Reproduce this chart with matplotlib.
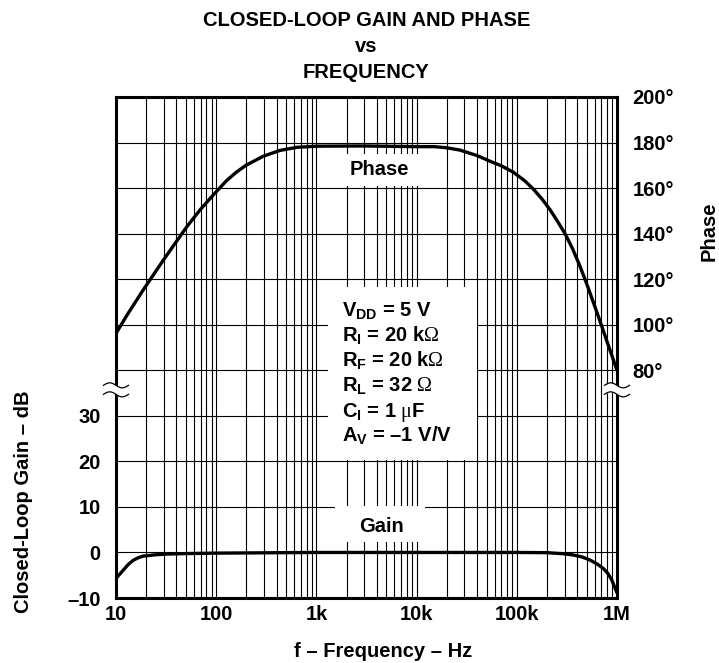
import matplotlib
matplotlib.use("Agg")
import matplotlib.pyplot as plt
import numpy as np
from matplotlib.patches import Rectangle
from matplotlib.ticker import LogLocator, NullFormatter

plt.rcParams['font.family'] = ['Liberation Sans', 'DejaVu Sans']
plt.rcParams['font.weight'] = 'bold'
plt.rcParams['axes.labelweight'] = 'bold'
plt.rcParams['axes.titleweight'] = 'bold'
plt.rcParams['font.size'] = 14.5
plt.rcParams['mathtext.fontset'] = 'custom'
plt.rcParams['mathtext.rm'] = 'Liberation Sans:bold'
plt.rcParams['mathtext.it'] = 'Liberation Sans:bold'
plt.rcParams['mathtext.bf'] = 'Liberation Sans:bold'
plt.rcParams['mathtext.sf'] = 'Liberation Serif:normal'

# closed-loop phase (degrees) against frequency (Hz)
phase_freq = [10, 13, 18.7, 29.7, 40, 50.8, 68.9, 93.5, 127, 159, 198, 295,
              430, 636, 1000, 3000, 10000, 15000, 20000, 27000, 40000, 54000,
              70000, 92000, 120000, 146000, 180000, 214000, 250000, 303000,
              360000, 427000, 500000, 581000, 680000, 789000, 1000000]
phase_deg = [96.2, 104.5, 115.3, 128.4, 136.5, 143.0, 150.4, 157.0, 163.3,
             167.0, 170.0, 174.0, 176.5, 177.9, 178.4, 178.5, 178.2, 178.2,
             177.7, 176.7, 174.3, 171.8, 169.8, 167.0, 163.2, 159.6, 155.0,
             150.6, 146.0, 140.0, 133.4, 125.7, 117.8, 109.8, 101.3, 93.0, 80]

# closed-loop gain (dB) against frequency (Hz)
gain_freq = [10, 11.8, 13.3, 14.9, 16.7, 18.7, 25, 32, 50, 100, 1000, 10000,
             100000, 200000, 300000, 367000, 450000, 537000, 630000, 729000,
             810000, 885000, 1000000]
gain_db = [-5.7, -3.9, -2.6, -1.7, -1.15, -0.8, -0.5, -0.35, -0.25, -0.15,
           0, 0, 0, -0.05, -0.3, -0.56, -1.0, -1.66, -2.5, -3.5, -4.6, -6.0,
           -8.9]

freq_ticks = [10, 100, 1e3, 1e4, 1e5, 1e6]
freq_labels = ['10', '100', '1k', '10k', '100k', '1M']
gain_ticks = list(range(-10, 101, 10))
gain_labels = ['\u201310' if g == -10 else (str(g) if g <= 30 else '') for g in gain_ticks]
phase_ticks = list(range(80, 201, 20))
phase_labels = [f'{p}\u00b0' for p in phase_ticks]

conditions = [r'V$_{\mathrm{DD}}$ = 5 V',
              r'R$_{\mathrm{I}}$ = 20 k$\mathsf{\Omega}$',
              r'R$_{\mathrm{F}}$ = 20 k$\mathsf{\Omega}$',
              r'R$_{\mathrm{L}}$ = 32 $\mathsf{\Omega}$',
              r'C$_{\mathrm{I}}$ = 1 $\mathsf{\mu}$F',
              r'A$_{\mathrm{V}}$ = –1 V/V']

fig = plt.figure(figsize=(7.19, 6.63), dpi=100)
ax = fig.add_axes([116 / 719, 65 / 663, 501 / 719, 501 / 663])

ax.set_xscale('log')
ax.set_xlim(10, 1e6)
ax.set_ylim(-10, 100)
ax.set_xticks(freq_ticks, freq_labels)
ax.xaxis.set_minor_locator(LogLocator(base=10, subs=range(2, 10)))
ax.xaxis.set_minor_formatter(NullFormatter())
ax.set_yticks(gain_ticks, gain_labels)
ax.grid(True, which='both', axis='x', color='black', lw=0.8)
ax.grid(True, which='major', axis='y', color='black', lw=0.8)
ax.tick_params(which='both', length=0)
ax.tick_params(axis='y', pad=11)
ax.tick_params(axis='x', pad=5)
for s in ax.spines.values():
    s.set_linewidth(2.2)

ax.plot(gain_freq, gain_db, color='black', lw=2.4, zorder=3,
        solid_capstyle='butt')

ax.set_xlabel('f \u2013 Frequency \u2013 Hz')
ax.xaxis.set_label_coords(0.533, -0.0888)
ax.set_ylabel('Closed-Loop Gain \u2013 dB')
ax.yaxis.set_label_coords(-0.165, 0.1916)

ax.set_title('CLOSED-LOOP GAIN AND PHASE\nvs\nFREQUENCY',
             fontsize=14.5, linespacing=1.45, pad=14)

# white panels behind the text blocks hide the grid
for x0, y0, w, h in [(0.4232, 0.2754, 0.2974, 0.3454),
                     (0.4371, 0.8224, 0.1797, 0.0638),
                     (0.4371, 0.1118, 0.1797, 0.0718)]:
    ax.add_patch(Rectangle((x0, y0), w, h, transform=ax.transAxes,
                           facecolor='white', edgecolor='none', zorder=2))

ax2 = ax.twinx()
ax2.set_ylim(-20, 200)
ax2.set_yticks(phase_ticks, phase_labels)
ax2.tick_params(length=0, pad=11)
for s in ax2.spines.values():
    s.set_visible(False)
ax2.plot(phase_freq, phase_deg, color='black', lw=2.4, zorder=3,
         solid_capstyle='butt')
ax2.set_ylabel('Phase')
ax2.yaxis.set_label_coords(1.1657, 0.7325)

ax2.text(0.526, 0.8443, 'Phase', transform=ax2.transAxes,
         ha='center', va='baseline')
ax2.text(0.5303, 0.1323, 'Gain', transform=ax2.transAxes,
         ha='center', va='baseline')
for i, line in enumerate(conditions):
    ax2.text(0.4505, 0.5615 - i * 0.0499, line, transform=ax2.transAxes,
             ha='left', va='baseline')

# axis break marks on both sides
t = np.linspace(-1, 1, 40)
for xc in (0.0, 1.0):
    xs = xc + t * 0.025
    upper = 0.4245 - 0.005 * np.sin(np.pi * t)
    lower = 0.4065 - 0.005 * np.sin(np.pi * t)
    ax2.fill_between(xs, lower, upper, transform=ax2.transAxes,
                     color='white', lw=0, clip_on=False, zorder=5)
    ax2.plot(xs, upper, color='black', lw=0.9, transform=ax2.transAxes,
             clip_on=False, zorder=6)
    ax2.plot(xs, lower, color='black', lw=0.9, transform=ax2.transAxes,
             clip_on=False, zorder=6)

fig.savefig('out.png', dpi=100)
